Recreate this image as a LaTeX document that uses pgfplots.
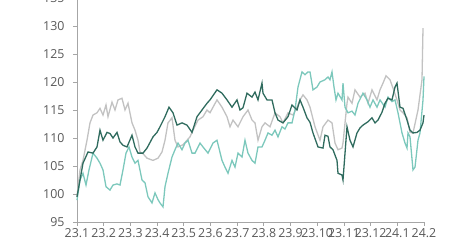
\documentclass[border=0pt]{standalone}
\usepackage{pgfplots}
\pgfplotsset{compat=1.18}
\usepackage{fontspec}
\setmainfont{Open Sans}
\definecolor{cdark}{HTML}{2F6B5E}
\definecolor{cteal}{HTML}{7CC8BC}
\definecolor{cgray}{HTML}{C2C2C2}
\definecolor{caxis}{HTML}{A6A6A6}
\definecolor{ctext}{HTML}{595959}
\begin{document}
\begin{tikzpicture}
\begin{axis}[
  at={(0,0)}, anchor=south west,
  scale only axis, width=347pt, height=224pt,
  xmin=77, xmax=424, ymin=95, ymax=135,
  axis x line*=bottom, axis y line*=left,
  axis line style={caxis, line width=0.8pt},
  tick style={caxis, line width=0.8pt},
  tick align=outside, major tick length=4pt,
  xtick={77,103.69,130.38,157.08,183.77,210.46,237.15,263.85,290.54,317.23,343.92,370.62,397.31,424},
  xticklabels={23.1,23.2,23.3,23.4,23.5,23.6,23.7,23.8,23.9,23.10,23.11,23.12,24.1,24.2},
  ytick={95,100,...,135},
  ticklabel style={font=\fontsize{12.4}{15}\selectfont, text=ctext},
  /pgf/number format/assume math mode=true,
  xticklabel style={yshift=1pt, inner xsep=0pt},
  yticklabel style={xshift=-5pt},
  clip=false,
]
\addplot[cgray, line width=1.3pt] coordinates {
(77,99.5)(80,104.3)(83,106)(87,109.6)(90,112.7)(93,114.1)(97,114.5)(100,115.3)(103,114.1)(106,115.9)(108,113.8)(112,116.4)(115,115)(118,116.8)(122,117.1)(125,115)(128,116.2)(132,112.7)(135,111.4)(138,109.6)(140,107.5)(143,107.2)(147,106.4)(153,106)(158,106.4)(162,107.5)(165,109.6)(168,112.7)(172,113.6)(175,109.6)(178,108.4)(183,108.8)(187,109.6)(190,110.2)(193,111.4)(198,113.2)(203,113.8)(207,115)(210,114.5)(213,115.5)(217,116.8)(222,115.5)(227,113.8)(230,112)(233,113.2)(238,112)(243,113.8)(248,115)(252,113.2)(255,112.7)(258,109.6)(262,112)(265,112.7)(270,112)(275,114.5)(280,113.8)(283,112.7)(288,114.5)(293,114.1)(297,115.5)(300,116.8)(303,117.7)(307,116.8)(310,115.5)(315,112)(320,109.6)(323,112)(328,113.2)(332,112.7)(335,109.1)(338,107.9)(342,108.2)(343,109.1)(347,116.2)(348,117.3)(352,116.2)(355,118.6)(360,117.3)(365,118)(368,116.2)(372,118.6)(377,116.8)(380,118.6)(383,119.8)(386,121.1)(390,120.4)(393,118.9)(397,116.8)(400,115)(403,114.5)(407,113.6)(410,111)(413,110.9)(418,115)(422,120.4)(423,129.6)
};
\addplot[cteal, line width=1.3pt] coordinates {
(77,98.9)(80,102.5)(83,103.7)(86,101.6)(89,104.3)(93,107.3)(97,106.4)(100,105.5)(103,104.3)(106,101.3)(110,100.7)(113,101.6)(117,101.8)(120,101.6)(123,104.3)(126,107.3)(129,108.4)(132,106.6)(135,105.5)(138,106)(142,102.5)(145,102)(148,99.5)(152,98.4)(155,100.2)(158,99)(160,98.4)(163,97.7)(165,101.3)(168,103.7)(172,106.6)(175,107.9)(178,109.1)(182,107.9)(185,109.1)(188,109.6)(192,107.3)(195,107.3)(200,109.1)(203,108.4)(208,107.3)(213,109.1)(217,109.6)(222,106)(225,104.8)(228,103.7)(232,106)(235,104.8)(238,107.3)(242,106.6)(245,109.6)(248,107.3)(252,106)(255,105.5)(258,108.4)(262,108.4)(265,109.6)(268,110.9)(272,110.5)(275,111.4)(278,110.2)(282,112)(285,111.6)(288,112.7)(292,112.7)(295,115)(298,119.1)(302,121.8)(305,121.3)(308,121.8)(310,121.8)(313,118.6)(317,119.1)(320,120)(325,120.4)(328,120.9)(330,120.4)(332,121.8)(334,119.1)(336,116.8)(338,118)(342,116.8)(343,119.8)(345,115.5)(348,114.5)(352,114.8)(355,114.1)(358,116.2)(363,118)(367,116.8)(370,115.5)(373,116.8)(377,115.5)(380,116.8)(385,115.5)(388,117.3)(392,116.5)(395,116.8)(398,114.5)(402,110.9)(405,109.1)(407,108.2)(408,110.9)(410,110.2)(413,104.3)(415,104.8)(418,109.6)(420,110.9)(423,116.8)(424,121)
};
\addplot[cdark, line width=1.3pt] coordinates {
(77,99.5)(83,105.5)(88,107.5)(93,107.3)(97,108.4)(100,111.4)(103,109.6)(107,111)(110,110.8)(113,110)(117,111)(120,109.3)(123,108.7)(127,108.4)(132,110.5)(135,108.4)(138,107.3)(143,107.3)(147,108.2)(153,110.2)(157,111)(160,112)(165,113.8)(169,115.5)(173,114.5)(177,112.3)(182,112.7)(187,112.3)(192,111)(197,113.8)(202,115)(207,116.2)(210,116.8)(217,118.6)(222,118)(227,116.8)(232,115.5)(237,116.8)(240,115)(243,115.4)(247,118)(252,117.3)(255,118.2)(258,116.8)(262,119.8)(263,118)(267,116.8)(272,116.8)(275,114.5)(278,113.2)(283,112.7)(288,113.8)(292,115.9)(297,115)(300,116.8)(303,115.5)(307,113.6)(310,112.8)(313,110.9)(318,108.4)(323,108.2)(325,110.5)(328,110.3)(330,108.4)(333,107.9)(337,106)(338,103.7)(342,103.4)(343,102.5)(347,112)(350,109.6)(353,108.4)(357,110.9)(360,111.8)(363,112.3)(368,112.9)(372,113.6)(375,112.7)(378,113.2)(382,114.6)(385,116.2)(388,117.1)(392,116.8)(395,119.1)(397,119.8)(400,115.5)(403,115.3)(407,113.2)(410,111.4)(413,110.9)(417,111)(420,111.4)(423,112.7)(424,114.1)
};
\end{axis}
\pgfresetboundingbox
\path[use as bounding box] (-77pt,-26pt) rectangle (397pt,222pt);
\end{tikzpicture}
\end{document}
